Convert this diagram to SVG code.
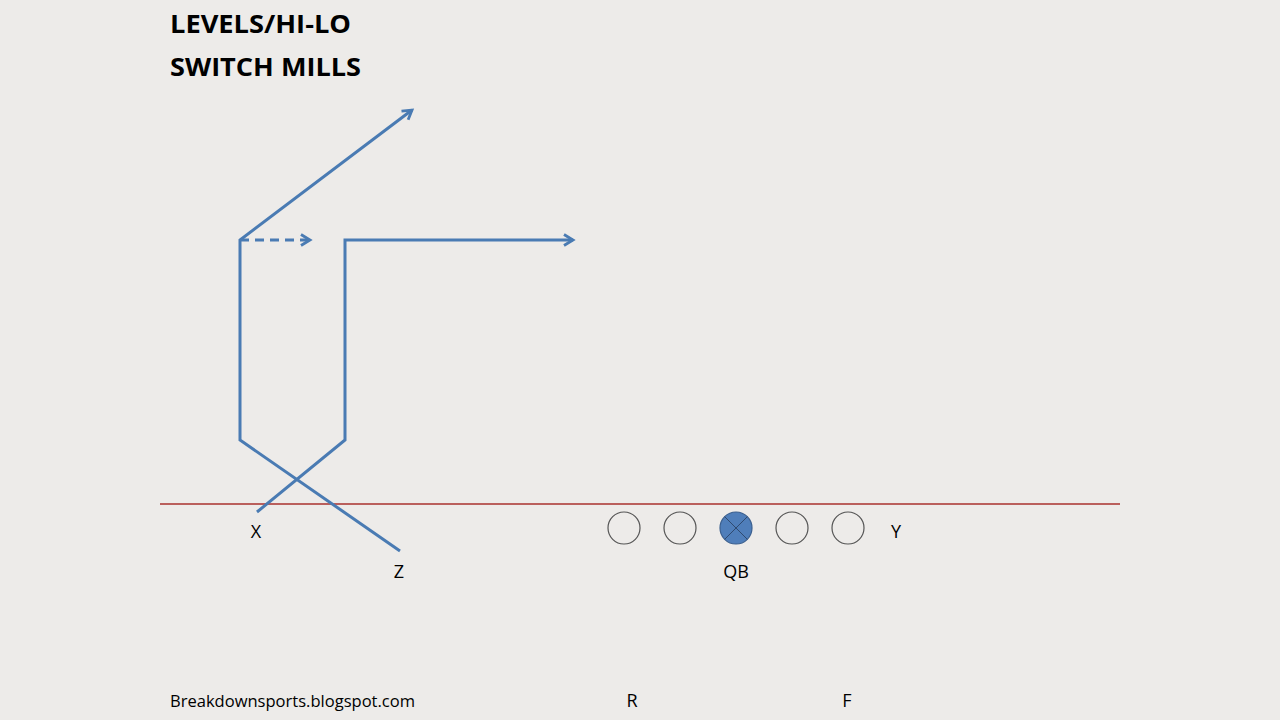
<svg xmlns="http://www.w3.org/2000/svg" width="1280" height="720" viewBox="0 0 1280 720">
<defs>
<marker id="arr" markerWidth="14" markerHeight="14" refX="11" refY="7" orient="auto" markerUnits="userSpaceOnUse">
<path d="M2,1.5 L11,7 L2,12.5" fill="none" stroke="#4A7BB3" stroke-width="2.8"/>
</marker>
<style>
.route{fill:none;stroke:#4A7BB3;stroke-width:3;stroke-linejoin:miter}
.lbl{font-family:"Open Sans","Liberation Sans",sans-serif;font-size:18px;fill:#000;text-anchor:middle}
.title{font-family:"Open Sans","Liberation Sans",sans-serif;font-weight:bold;font-size:25px;fill:#000}
.pl{fill:none;stroke:#555;stroke-width:1.2}
</style>
</defs>
<rect width="1280" height="720" fill="#EDEBE9"/>
<g id="title">
<text class="title" x="170" y="33" textLength="181" lengthAdjust="spacingAndGlyphs">LEVELS/HI-LO</text>
<text class="title" x="170" y="76" textLength="191" lengthAdjust="spacingAndGlyphs">SWITCH MILLS</text>
</g>
<line id="los" x1="160" y1="504" x2="1120" y2="504" stroke="#A8302C" stroke-width="1.3"/>
<g id="connectors">
<polyline class="route" points="257,512 345,440 345,240 573,240" marker-end="url(#arr)"/>
<polyline class="route" points="400,551 240,440 240,240 412,110" marker-end="url(#arr)"/>
<line class="route" x1="240" y1="240" x2="310" y2="240" stroke-dasharray="9,6" marker-end="url(#arr)"/>
</g>
<g id="ol1"><circle class="pl" cx="624" cy="528" r="16"/></g>
<g id="ol2"><circle class="pl" cx="680" cy="528" r="16"/></g>
<g id="c"><circle cx="736" cy="528" r="16" fill="#4F7EBA" stroke="#3A5F8F" stroke-width="1.2"/>
<line x1="724.7" y1="516.7" x2="747.3" y2="539.3" stroke="#2F4A70" stroke-width="1"/>
<line x1="747.3" y1="516.7" x2="724.7" y2="539.3" stroke="#2F4A70" stroke-width="1"/></g>
<g id="ol4"><circle class="pl" cx="792" cy="528" r="16"/></g>
<g id="ol5"><circle class="pl" cx="848" cy="528" r="16"/></g>
<g id="labels">
<text class="lbl" x="256" y="538">X</text>
<text class="lbl" x="399" y="578">Z</text>
<text class="lbl" x="736" y="578">QB</text>
<text class="lbl" x="896" y="538">Y</text>
<text class="lbl" x="632" y="707">R</text>
<text class="lbl" x="847" y="707">F</text>
<text class="lbl" x="170" y="707" style="text-anchor:start;font-size:17px" textLength="245" lengthAdjust="spacingAndGlyphs">Breakdownsports.blogspot.com</text>
</g>
</svg>
